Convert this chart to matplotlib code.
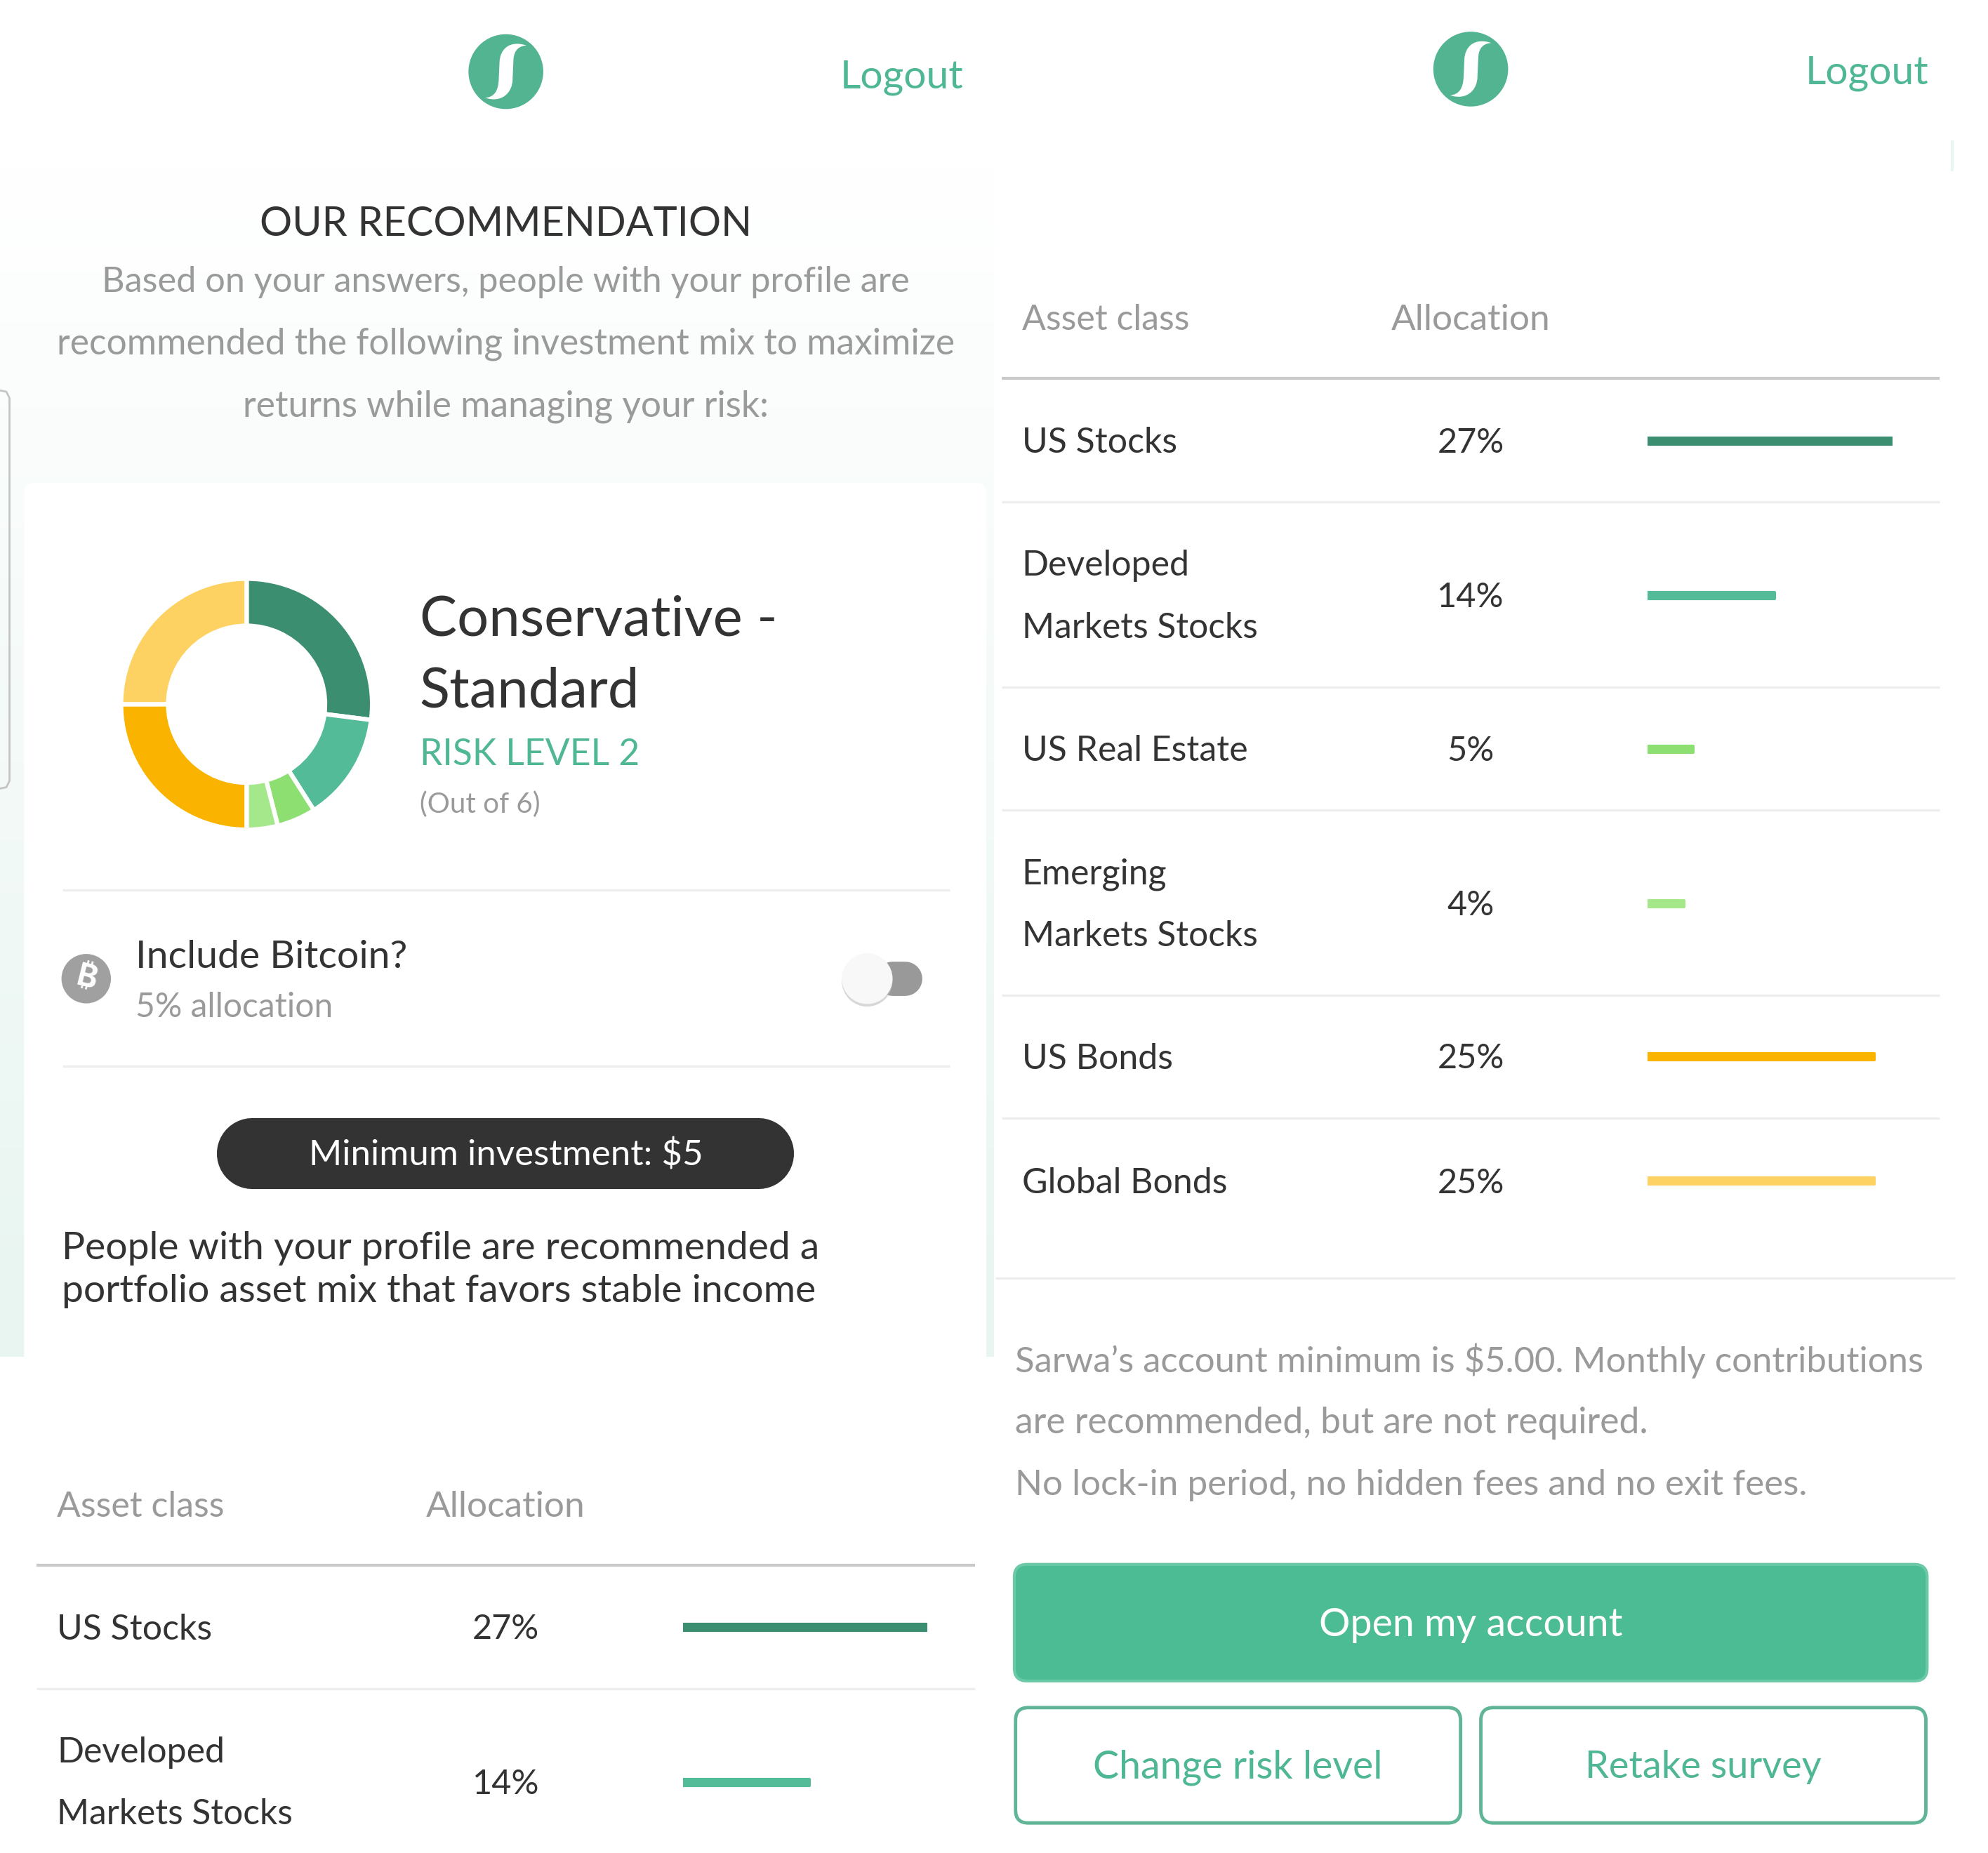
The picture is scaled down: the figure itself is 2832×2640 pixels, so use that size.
import numpy as np
import matplotlib
matplotlib.use('Agg')
import matplotlib.pyplot as plt
from matplotlib.patches import Circle, FancyBboxPatch, PathPatch, Rectangle
from matplotlib.path import Path
from matplotlib.colors import LinearSegmentedColormap

plt.rcParams['font.family'] = ['Lato', 'DejaVu Sans']

# data
asset_names = ['US Stocks', 'Developed\nMarkets Stocks', 'US Real Estate',
               'Emerging\nMarkets Stocks', 'US Bonds', 'Global Bonds']
allocations = [27, 14, 5, 4, 25, 25]
asset_colors = ['#3b8f70', '#53bb97', '#8ddf72', '#a5e88c', '#fab400', '#fdd263']
intro_lines = ['Based on your answers, people with your profile are',
               'recommended the following investment mix to maximize',
               'returns while managing your risk:']
profile_lines = ['People with your profile are recommended a',
                 'portfolio asset mix that favors stable income']
note_lines = ['Sarwa\u2019s account minimum is $5.00. Monthly contributions',
              'are recommended, but are not required.',
              'No lock-in period, no hidden fees and no exit fees.']

GREEN = '#4fb795'
DARK = '#333333'
GREY = '#9a9a9a'
W, H = 1568, 2640 * 1568 / 2832

fig = plt.figure(figsize=(28.32, 26.4), dpi=100, facecolor='white')
ax = fig.add_axes([0, 0, 1, 1])
ax.axis('off')


def txt(x, y, s, size=36, color=DARK, ha='left', **kw):
    ax.text(x, y, s, fontsize=size, color=color, ha=ha, va='center_baseline', **kw)


def box(x0, y0, x1, y1, r, face, edge='none', lw=0, z=2):
    ax.add_patch(FancyBboxPatch((x0, y0), x1 - x0, y1 - y0, boxstyle=f'round,pad=0,rounding_size={r}',
                                fc=face, ec=edge, lw=lw, zorder=z))


def pill(x0, x1, y, h, color, z=3):
    # thick line with round caps, h in picture units
    lw = h * (2832 / W) / (100 / 72)
    ax.plot([x0 + h / 2, x1 - h / 2], [y, y], color=color, lw=lw, solid_capstyle='round', zorder=z)


def hline(x0, x1, y, color='#eeeeee', lw=2.5):
    ax.plot([x0, x1], [y, y], color=color, lw=lw, solid_capstyle='butt', zorder=3)


def logo(cx, cy, r=29.5):
    ax.add_patch(Circle((cx, cy), r, fc='#53b492', ec='none', zorder=3))
    pts = [(0.55, -0.70), (0.1, -0.85), (-0.16, -0.6), (-0.17, -0.25), (-0.19, 0.2),
           (-0.2, 0.5), (-0.3, 0.68), (-0.55, 0.70), (-0.1, 0.85), (0.18, 0.55), (0.18, 0.2),
           (0.2, -0.25), (0.2, -0.5), (0.28, -0.68), (0.55, -0.70)]
    codes = [Path.MOVETO, Path.CURVE4, Path.CURVE4, Path.CURVE4, Path.LINETO,
             Path.CURVE4, Path.CURVE4, Path.CURVE4, Path.CURVE4, Path.CURVE4, Path.CURVE4,
             Path.LINETO, Path.CURVE4, Path.CURVE4, Path.CURVE4]
    verts = [(cx + a * r, cy + b * r) for a, b in pts]
    ax.add_patch(PathPatch(Path(verts, codes), fc='white', ec='none', zorder=4))


def table(dx, dy, n_rows):
    # header and rows, shared by both phone screens
    row_y = [347, 469, 590, 712, 833, 931]
    row_lines = [396, 542, 639, 785, 882]
    txt(806 + dx, 250 + dy, 'Asset class', color=GREY)
    txt(1160 + dx, 250 + dy, 'Allocation', size=37, color=GREY, ha='center')
    hline(790 + dx, 1530 + dx, 298.5 + dy, color='#c9c9c9', lw=3)
    for i in range(n_rows):
        lines = asset_names[i].split('\n')
        if len(lines) == 2:
            txt(806 + dx, row_y[i] - 25 + dy, lines[0])
            txt(806 + dx, row_y[i] + 24 + dy, lines[1], size=35.7)
        else:
            txt(806 + dx, row_y[i] + dy, lines[0])
        txt(1160 + dx, row_y[i] + dy, f'{allocations[i]}%', size=35, ha='center')
        if i < len(row_lines):
            hline(790 + dx, 1530 + dx, row_lines[i] + dy)
    # bars get their own axes, x axis in percent
    x0, x1 = 1299.5 + dx, 1492.5 + dx
    bar_ax = fig.add_axes([x0 / W, 0, (x1 - x0) / W, 1])
    bar_ax.axis('off')
    bar_ax.set_xlim(0, max(allocations))
    bar_ax.set_ylim(H, 0)
    bar_ax.barh([y + 0.8 + dy for y in row_y[:n_rows]], allocations[:n_rows], height=5,
                color=asset_colors[:n_rows], edgecolor=asset_colors[:n_rows], linewidth=3,
                joinstyle='round')


# left screen background
cmap = LinearSegmentedColormap.from_list('bg', ['#ffffff', '#e8f5f0'])
ax.imshow(np.linspace(0, 1, 256).reshape(-1, 1), cmap=cmap, aspect='auto',
          extent=(0, 784, 1070, 130), zorder=0)
ax.set_xlim(0, W)
ax.set_ylim(H, 0)
box(19, 381, 778, 1090, 8, 'white', z=1)
ax.add_patch(Rectangle((0, 1070), 790, 40, fc='white', ec='none', zorder=1.5))
ax.plot([0, 5, 7.5, 7.5, 5, 0], [308, 309, 314, 616, 621, 622], color='#c4c4c4', lw=2, zorder=2)
ax.plot([1540, 1540], [112, 134], color='#e8f5f0', lw=3, zorder=2)

logo(399, 56.5)
logo(1160, 54.5)
txt(711.5, 58, 'Logout', size=41, color=GREEN, ha='center')
txt(1472.5, 55, 'Logout', size=41, color=GREEN, ha='center')

txt(399, 174, 'OUR RECOMMENDATION', size=41.5, ha='center')
for y, s, size in zip([220, 269, 318], intro_lines, [36.4, 37.1, 37.1]):
    txt(399, y, s, size=size, color=GREY, ha='center')

# donut
pie_ax = fig.add_axes([(194.5 - 100) / W, 1 - (555.5 + 100) / H, 200 / W, 200 / H])
pie_ax.pie(allocations, colors=asset_colors, startangle=90, counterclock=False, radius=1,
           wedgeprops=dict(width=0.375, edgecolor='white', linewidth=4.5))
pie_ax.set_xlim(-1.01, 1.01)
pie_ax.set_ylim(-1.01, 1.01)

txt(331, 485.5, 'Conservative -', size=57.3)
txt(331, 541.5, 'Standard', size=57.3)
txt(331, 593, 'RISK LEVEL 2', size=37.2, color=GREEN)
txt(331, 632.5, '(Out of 6)', size=29, color=GREY)

hline(49, 749, 702)
hline(49, 749, 841)

# bitcoin row
ax.add_patch(Circle((68, 772), 19.5, fc='#a0a0a0', ec='none', zorder=3))
ax.text(68, 772, '\u20bf', fontsize=32, color='white', fontweight='bold', rotation=-14,
        family=['Inter', 'Roboto', 'Noto Sans', 'Open Sans', 'Liberation Sans', 'DejaVu Sans'],
        ha='center', va='center', zorder=4)
txt(107, 752.5, 'Include Bitcoin?', size=39.9)
txt(107, 792.5, '5% allocation', size=34.6, color=GREY)
pill(690, 727, 772, 27, '#999999', z=3)
ax.add_patch(Circle((684, 774), 20, fc='#bdbdbd', ec='none', alpha=0.6, zorder=3.5))
ax.add_patch(Circle((684, 772), 20, fc='#f8f8f8', ec='none', zorder=4))

pill(171, 626, 909.5, 56, DARK)
ax.text(399, 909, 'Minimum investment: $5', fontsize=36.7, color='white', ha='center',
        va='center_baseline', zorder=5)
txt(49, 982, profile_lines[0], size=39.8)
txt(49, 1016, profile_lines[1], size=39.8)

table(0, 0, 6)
table(-761, 936, 2)
hline(785, 1542, 1008)

for y, s, size in zip([1071, 1120, 1169], note_lines, [36.6, 37.1, 36.8]):
    txt(800.5, y, s, size=size, color=GREY)

# buttons
box(800, 1234, 1520, 1326, 10, '#4cbc94', edge='#6cc9a8', lw=3)
txt(1160, 1279.5, 'Open my account', size=40, color='white', ha='center', zorder=5)
box(801, 1347, 1152, 1438, 10, 'white', edge='#5fb596', lw=3.5)
txt(976.5, 1391.5, 'Change risk level', size=40, color=GREEN, ha='center', zorder=5)
box(1168, 1347, 1519, 1438, 10, 'white', edge='#5fb596', lw=3.5)
txt(1343.5, 1391.5, 'Retake survey', size=39, color=GREEN, ha='center', zorder=5)

plt.savefig('out.png', dpi=100)
